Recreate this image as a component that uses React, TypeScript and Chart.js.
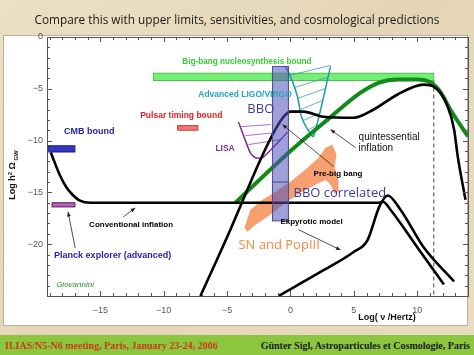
import React, { useEffect, useRef } from 'react';
import { Chart, registerables } from 'chart.js';
Chart.register(...registerables);

// ---------- axis ticks ----------
const xTickLabels = [-15, -10, -5, 0, 5, 10];
const yTickLabels = [-20, -15, -10, -5, 0];

// ---------- curves (log10 nu [Hz], log10 h^2 Omega_GW) ----------
const convInflX = [-18.9, -18.2, -17.7, -17.2, -16.6, -15.8, -10, 0, 7.0, 7.3, 7.9, 10.0, 12.1];
const convInflY = [-11.15, -13.3, -14.45, -15.2, -15.8, -16.0, -16.0, -16.0, -16.0, -15.9, -16.7, -20.3, -23.9];

const ekpyroticX = [-0.95, 2.37, 4.98, 6.08, 7.0, 7.66, 8.69, 10.5, 12.9];
const ekpyroticY = [-25.0, -22.68, -20.75, -19.6, -16.4, -15.3, -16.7, -20.3, -23.6];

const quintX = [-7.1, -4.74, -2.37, -1.18, -0.55, 0, 1.03, 2.6, 4.98, 6.56, 8.45, 10.5, 11.3, 12.4, 12.9, 13.2, 13.8];
const quintY = [-25, -18.6, -11.85, -8.9, -7.7, -7.2, -7.2, -7.7, -7.8, -7.0, -5.55, -4.6, -4.8, -6.7, -8.9, -11.6, -15.7];

const greenX = [-4.34, 0, 3.0, 5.5, 7.0, 8.5, 10.0, 11.06, 11.85, 12.6, 14.0];
const greenY = [-16.0, -11.0, -7.9, -5.4, -4.4, -4.1, -4.1, -4.4, -5.35, -7.0, -9.6];

const ligoX = [-0.39, 0, 0.55, 0.87, 1.34, 1.82, 3.16];
const ligoY = [-2.84, -3.8, -5.75, -7.7, -8.9, -9.6, -2.84];
const ligoHatchX1 = [-0.08, 0.32, 0.55, 0.79, 1.03, 1.34];
const ligoHatchY1 = [-3.71, -4.87, -5.93, -7.0, -8.06, -9.03];
const ligoHatchX2 = [3.16, 2.92, 2.76, 2.53, 2.37, 2.13];
const ligoHatchY2 = [-2.74, -3.9, -4.97, -6.13, -7.29, -8.45];

const lisaX = [-4.1, -3.16, -2.76, -2.2, -0.24];
const lisaY = [-8.2, -11.2, -11.65, -11.65, -9.2];
const lisaHatchX1 = [-3.87, -3.55, -3.32];
const lisaHatchY1 = [-8.65, -9.52, -10.39];
const lisaHatchX2 = [-1.58, -1.18, -0.79];
const lisaHatchY2 = [-8.45, -9.23, -9.9];

const dashedX = [11.3, 11.3];
const dashedY = [-4.2, -25];

// ---------- boxes [x0, x1], [y0, y1] ----------
const bbnX = [-10.8, 11.3];
const bbnY = [-4.2, -3.5];
const cmbX = [-19.1, -17.0];
const cmbY = [-11.1, -10.5];
const planckX = [-18.8, -17.0];
const planckY = [-16.4, -16.0];
const pulsarX = [-8.9, -7.3];
const pulsarY = [-9.0, -8.55];
const bboX = [-1.42, -0.16];
const bboY = [-17.75, -2.84];
const bboSplitY = -14.0;

// ---------- SN / PopIII & pre-big-bang region ----------
const blobX = [-3.63, -3.16, -2.21, -1.18, 0, 1.18, 2.21, 2.76, 3.32, 3.63, 3.48, 3.79, 3.79, 3.48, 3.16, 2.76, 1.97, 0.79, -0.39, -1.58, -2.76, -3.4];
const blobY = [-18.42, -16.68, -15.7, -14.94, -13.97, -12.8, -11.65, -10.68, -10.39, -11.36, -12.6, -13.78, -14.94, -15.13, -14.26, -13.78, -14.26, -15.03, -16.0, -17.16, -18.13, -18.8];

// ---------- arrows (from -> to) ----------
const arrowFromX = [-16.98, -13.19, 5.13, 0.63, 3.4];
const arrowFromY = [-20.36, -17.36, -10.68, -18.6, -12.5];
const arrowToX = [-17.54, -12.24, 3.16, 3.95, -0.63];
const arrowToY = [-16.88, -16.5, -8.93, -20.55, -8.45];

// ---------- annotation texts ----------
const annTexts = ['CMB bound', 'Pulsar timing bound', 'Big-bang nucleosynthesis bound', 'Advanced LIGO/VIRGO', 'BBO', 'LISA', 'quintessential', 'inflation', 'Pre-big bang', 'BBO correlated', 'Ekpyrotic model', 'SN and PopIII', 'Conventional inflation', 'Planck explorer (advanced)', 'Giovannini'];
const annX = [-17.85, -11.85, -8.53, -7.27, -3.4, -5.92, 5.37, 5.37, 1.82, 0.24, -0.79, -4.1, -15.88, -18.64, -18.48];
const annY = [-9.14, -7.59, -2.35, -5.55, -7.0, -10.78, -9.71, -10.78, -13.2, -15.13, -17.85, -20.1, -18.13, -21.05, -23.96];

const W = 474;
const H = 355;
const SANS = '"Liberation Sans", Arial, sans-serif';
const ROUND = '"Open Sans", "DejaVu Sans", sans-serif';

const annFonts = [
  `bold 9px ${SANS}`, `bold 8.5px ${SANS}`, `bold 8.2px ${SANS}`, `bold 8.5px ${SANS}`, `13px ${ROUND}`,
  `bold 8.5px ${SANS}`, `10px ${SANS}`, `10px ${SANS}`, `bold 8px ${SANS}`, `13px ${ROUND}`,
  `bold 8px ${SANS}`, `13px ${ROUND}`, `bold 8px ${SANS}`, `bold 9px ${SANS}`, `italic 8px ${SANS}`,
];
const annColors = ['#1f1f9f', '#e02020', '#33cc33', '#22a8b8', '#3d3d99', '#8a2a9a', '#111', '#111', '#000', '#3b3ba0', '#000', '#f08a40', '#000', '#1f1fa8', '#2e8b2e'];

const pts = (xs: number[], ys: number[]) => xs.map((x, i) => ({ x, y: ys[i] }));
const fmt = (v: number) => (v < 0 ? '\u2212' + Math.abs(v) : String(v));

export default function App() {
  const ref = useRef<HTMLCanvasElement>(null);

  useEffect(() => {
    document.body.style.margin = '0';
    const canvas = ref.current!;

    const line = (data: any[], color: string, width: number, extra: any = {}) => ({
      data, showLine: true, borderColor: color, backgroundColor: color, borderWidth: width,
      pointRadius: 0, fill: false, tension: 0, ...extra,
    });

    const datasets: any[] = [
      line(pts(convInflX, convInflY), '#000', 2.6, { cubicInterpolationMode: 'monotone' }),
      line(pts(ekpyroticX, ekpyroticY), '#000', 2.6, { cubicInterpolationMode: 'monotone' }),
      line(pts(quintX, quintY), '#000', 2.6, { cubicInterpolationMode: 'monotone' }),
      line(pts(greenX, greenY), '#118a1a', 4, { cubicInterpolationMode: 'monotone' }),
      line(pts(ligoX, ligoY), '#1f9aa6', 1.5, { tension: 0.2 }),
      line(pts(lisaX, lisaY), '#8a2a9a', 1.5, { tension: 0.2 }),
      line(pts(dashedX, dashedY), '#444', 1, { borderDash: [4, 3] }),
    ];
    ligoHatchX1.forEach((_, i) => {
      datasets.push(line(pts([ligoHatchX1[i], ligoHatchX2[i]], [ligoHatchY1[i], ligoHatchY2[i]]), '#3aa0a8', 0.8));
    });
    lisaHatchX1.forEach((_, i) => {
      datasets.push(line(pts([lisaHatchX1[i], lisaHatchX2[i]], [lisaHatchY1[i], lisaHatchY2[i]]), '#9a4aa8', 0.8));
    });

    const deco = {
      id: 'deco',
      beforeDraw(c: any) {
        const ctx = c.ctx;
        ctx.save();
        ctx.fillStyle = '#ffffff';
        ctx.fillRect(3, 35, 465, 291);
        ctx.strokeStyle = '#b8b0a0';
        ctx.lineWidth = 1;
        ctx.strokeRect(3.5, 35.5, 464, 290);
        ctx.restore();
      },
      beforeDatasetsDraw(c: any) {
        const ctx = c.ctx;
        const sx = c.scales.x, sy = c.scales.y;
        const rect = (xs: number[], ys: number[], fill: string, stroke: string) => {
          const x0 = sx.getPixelForValue(xs[0]), x1 = sx.getPixelForValue(xs[1]);
          const y0 = sy.getPixelForValue(ys[1]), y1 = sy.getPixelForValue(ys[0]);
          ctx.fillStyle = fill;
          ctx.fillRect(x0, y0, x1 - x0, y1 - y0);
          ctx.strokeStyle = stroke;
          ctx.lineWidth = 1;
          ctx.strokeRect(x0, y0, x1 - x0, y1 - y0);
        };
        ctx.save();
        rect(bbnX, bbnY, '#74ee74', '#4cc04c');
        rect(cmbX, cmbY, '#3535c8', '#1a1a70');
        rect(planckX, planckY, '#b862b8', '#5a1a5a');
        rect(pulsarX, pulsarY, '#f47272', '#c84040');
        // blob
        ctx.beginPath();
        blobX.forEach((vx, i) => {
          const px = sx.getPixelForValue(vx), py = sy.getPixelForValue(blobY[i]);
          if (i === 0) ctx.moveTo(px, py); else ctx.lineTo(px, py);
        });
        ctx.closePath();
        ctx.fillStyle = '#f6a070';
        ctx.fill();
        ctx.restore();
      },
      afterDatasetsDraw(c: any) {
        const ctx = c.ctx;
        const sx = c.scales.x, sy = c.scales.y;
        const a = c.chartArea;
        ctx.save();
        // BBO bar
        const bx0 = sx.getPixelForValue(bboX[0]), bx1 = sx.getPixelForValue(bboX[1]);
        const by0 = sy.getPixelForValue(bboY[1]), by1 = sy.getPixelForValue(bboY[0]);
        ctx.fillStyle = 'rgba(80, 80, 185, 0.55)';
        ctx.fillRect(bx0, by0, bx1 - bx0, by1 - by0);
        ctx.strokeStyle = '#4a4a90';
        ctx.lineWidth = 1;
        ctx.strokeRect(bx0, by0, bx1 - bx0, by1 - by0);
        const sp = sy.getPixelForValue(bboSplitY);
        ctx.beginPath(); ctx.moveTo(bx0, sp); ctx.lineTo(bx1, sp); ctx.stroke();

        // arrows
        ctx.strokeStyle = '#222';
        ctx.fillStyle = '#222';
        ctx.lineWidth = 0.8;
        arrowFromX.forEach((_, i) => {
          const x1 = sx.getPixelForValue(arrowFromX[i]), y1 = sy.getPixelForValue(arrowFromY[i]);
          const x2 = sx.getPixelForValue(arrowToX[i]), y2 = sy.getPixelForValue(arrowToY[i]);
          ctx.beginPath(); ctx.moveTo(x1, y1); ctx.lineTo(x2, y2); ctx.stroke();
          const ang = Math.atan2(y2 - y1, x2 - x1);
          const s = 5;
          ctx.beginPath();
          ctx.moveTo(x2, y2);
          ctx.lineTo(x2 - s * Math.cos(ang - 0.4), y2 - s * Math.sin(ang - 0.4));
          ctx.lineTo(x2 - s * Math.cos(ang + 0.4), y2 - s * Math.sin(ang + 0.4));
          ctx.closePath(); ctx.fill();
        });

        // labels
        ctx.textBaseline = 'middle';
        ctx.textAlign = 'left';
        annTexts.forEach((t, i) => {
          ctx.font = annFonts[i];
          ctx.fillStyle = annColors[i];
          ctx.fillText(t, sx.getPixelForValue(annX[i]), sy.getPixelForValue(annY[i]));
        });

        // frame
        ctx.strokeStyle = '#555';
        ctx.lineWidth = 1;
        ctx.strokeRect(Math.round(a.left) + 0.5, Math.round(a.top) + 0.5, Math.round(a.right - a.left), Math.round(a.bottom - a.top));

        // inward ticks
        ctx.strokeStyle = '#555';
        ctx.beginPath();
        for (let v = Math.ceil(sx.min); v <= sx.max; v++) {
          const px = Math.round(sx.getPixelForValue(v)) + 0.5;
          const len = v % 5 === 0 ? 5 : 3;
          ctx.moveTo(px, a.bottom); ctx.lineTo(px, a.bottom - len);
          ctx.moveTo(px, a.top); ctx.lineTo(px, a.top + len);
        }
        for (let v = Math.ceil(sy.min); v <= sy.max; v++) {
          const py = Math.round(sy.getPixelForValue(v)) + 0.5;
          const len = v % 5 === 0 ? 5 : 3;
          ctx.moveTo(a.left, py); ctx.lineTo(a.left + len, py);
          ctx.moveTo(a.right, py); ctx.lineTo(a.right - len, py);
        }
        ctx.stroke();

        // axis titles
        ctx.fillStyle = '#111';
        ctx.font = `bold 9px ${SANS}`;
        ctx.textAlign = 'center';
        ctx.fillText('Log( \u03BD /Hertz)', 387, 318);

        ctx.translate(13, 175);
        ctx.rotate(-Math.PI / 2);
        const parts: [string, string, number][] = [
          ['Log h', `bold 9px ${SANS}`, 0],
          ['2', `bold 6px ${SANS}`, -3],
          [' \u03A9', `bold 9px ${SANS}`, 0],
          [' GW', `bold 6px ${SANS}`, 3],
        ];
        let total = 0;
        parts.forEach(([t, f]) => { ctx.font = f; total += ctx.measureText(t).width; });
        let cx = -total / 2;
        ctx.textAlign = 'left';
        parts.forEach(([t, f, dy]) => {
          ctx.font = f;
          ctx.fillText(t, cx, dy);
          cx += ctx.measureText(t).width;
        });
        ctx.restore();
      },
    };

    const tickFont = { family: SANS, size: 9 };
    const chart = new Chart(canvas, {
      type: 'scatter',
      data: { datasets },
      options: {
        responsive: false,
        animation: false,
        devicePixelRatio: 1,
        layout: { padding: { left: 0, top: 37, right: 6, bottom: 0 } },
        plugins: { legend: { display: false }, tooltip: { enabled: false } },
        scales: {
          x: {
            type: 'linear', min: -19.2, max: 14,
            grid: { display: false, drawTicks: false },
            border: { display: false },
            ticks: { padding: 9, color: '#555', font: tickFont, maxRotation: 0, callback: (v: any) => fmt(Number(v)) },
            afterBuildTicks: (ax: any) => { ax.ticks = xTickLabels.map((v) => ({ value: v })); },
            afterFit: (s: any) => { s.height = 59; },
          },
          y: {
            type: 'linear', min: -25, max: 0,
            grid: { display: false, drawTicks: false },
            border: { display: false },
            ticks: { padding: 4, color: '#555', font: tickFont, callback: (v: any) => fmt(Number(v)) },
            afterBuildTicks: (ax: any) => { ax.ticks = yTickLabels.map((v) => ({ value: v })); },
            afterFit: (s: any) => { s.width = 47; },
          },
        },
      } as any,
      plugins: [deco],
    });
    return () => chart.destroy();
  }, []);

  return (
    <div style={{ position: 'relative', width: W, height: H, overflow: 'hidden', background: 'linear-gradient(135deg, #ecdfc4 0%, #e4d5b6 50%, #eadcbf 100%)' }}>
      <canvas ref={ref} width={W} height={H} style={{ position: 'absolute', left: 0, top: 0 }} />
      <div style={{ position: 'absolute', left: 0, top: 10, width: W, height: 18, lineHeight: '18px', textAlign: 'center', fontFamily: ROUND, fontSize: 11.8, color: '#1a1a1a' }}>
        Compare this with upper limits, sensitivities, and cosmological predictions
      </div>
      <div style={{ position: 'absolute', left: 0, top: 335, width: W, height: 20, background: '#8cc63f' }}>
        <span style={{ position: 'absolute', left: 5, top: 0, lineHeight: '22px', fontFamily: '"Liberation Serif", "DejaVu Serif", serif', fontWeight: 'bold', fontSize: 10, color: '#c8401a', whiteSpace: 'nowrap' }}>
          ILIAS/N5-N6 meeting, Paris, January 23-24, 2006
        </span>
        <span style={{ position: 'absolute', right: 4, top: 0, lineHeight: '22px', fontFamily: '"Liberation Serif", "DejaVu Serif", serif', fontWeight: 'bold', fontSize: 10, color: '#1c1c2c', whiteSpace: 'nowrap' }}>
          Günter Sigl, Astroparticules et Cosmologie, Paris
        </span>
      </div>
    </div>
  );
}
